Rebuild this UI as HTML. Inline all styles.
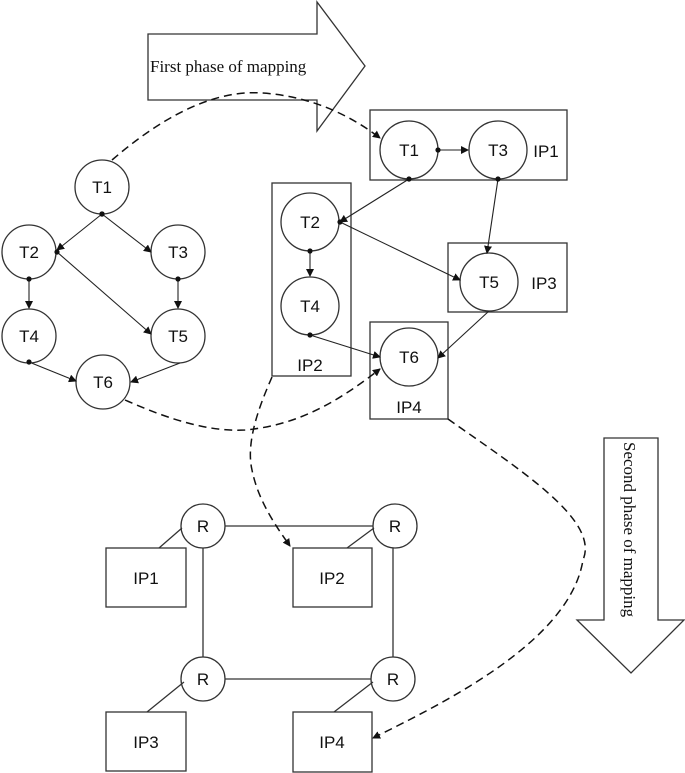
<!DOCTYPE html>
<html><head><style>
html,body{margin:0;padding:0;background:#fff;}
svg{display:block;}
.n{font-family:"Liberation Sans",sans-serif;font-size:17px;text-anchor:middle;fill:#111;}
.s{font-family:"Liberation Serif",serif;font-size:17px;fill:#111;}
</style></head><body>
<svg width="685" height="773" viewBox="0 0 685 773" xmlns="http://www.w3.org/2000/svg">
<defs>
<marker id="a" markerWidth="8" markerHeight="8" refX="7" refY="4" orient="auto" markerUnits="userSpaceOnUse"><path d="M0,0 L8,4 L0,8 z" fill="#111"/></marker>
<marker id="d" markerWidth="6" markerHeight="6" refX="3" refY="3" markerUnits="userSpaceOnUse"><circle cx="3" cy="3" r="2.6" fill="#111"/></marker>
</defs>
<g fill="none" stroke="#333" stroke-width="1.3">
<!-- top arrow -->
<path d="M148,34 L317,34 L317,2 L365,66 L317,131 L317,100 L148,100 Z" fill="#fff"/>
<!-- second arrow -->
<path d="M604,438 L658,438 L658,620 L684,620 L631,673 L577,620 L604,620 Z" fill="#fff"/>
<!-- left graph -->
<circle cx="102" cy="187" r="27"/>
<circle cx="29" cy="252" r="27"/>
<circle cx="178" cy="252" r="27"/>
<circle cx="29" cy="336" r="27"/>
<circle cx="178" cy="336" r="27"/>
<circle cx="103" cy="382" r="27"/>
<!-- right -->
<rect x="370" y="110" width="197" height="70"/>
<rect x="272" y="183" width="79" height="193"/>
<rect x="448" y="243" width="119" height="69"/>
<rect x="370" y="322" width="78" height="97"/>
<circle cx="409" cy="150" r="29"/>
<circle cx="498" cy="150" r="29"/>
<circle cx="310" cy="222" r="29"/>
<circle cx="310" cy="306" r="29"/>
<circle cx="489" cy="282" r="29"/>
<circle cx="409" cy="357" r="29"/>
<!-- network -->
<circle cx="203" cy="526" r="22"/>
<circle cx="395" cy="526" r="22"/>
<circle cx="203" cy="679" r="22"/>
<circle cx="393" cy="679" r="22"/>
<rect x="106" y="548" width="80" height="59"/>
<rect x="293" y="548" width="79" height="59"/>
<rect x="106" y="712" width="80" height="59"/>
<rect x="293" y="712" width="79" height="60"/>
<path d="M225,526 L373,526 M203,548 L203,657 M393,548 L393,657 M225,679 L371,679 M182,528 L159,548 M374,528 L347,548 M184,682 L147,712 M373,682 L334,712"/>
</g>
<g stroke="#222" stroke-width="1.1" fill="none" marker-start="url(#d)" marker-end="url(#a)">
<path d="M102,214 L57,250"/>
<path d="M102,214 L151,252"/>
<path d="M29,279 L29,308"/>
<path d="M178,279 L178,308"/>
<path d="M57,252 L151,334"/>
<path d="M29,362 L76,381"/>
<path d="M180,363 L131,382" marker-start="none"/>
<path d="M438,150 L468,150"/>
<path d="M409,179 L340,222"/>
<path d="M498,179 L487,253"/>
<path d="M340,222 L460,280"/>
<path d="M310,251 L310,276"/>
<path d="M310,335 L380,357"/>
<path d="M489,311 L438,358" marker-start="none"/>
</g>
<g stroke="#111" stroke-width="1.5" fill="none" stroke-dasharray="8,5" marker-end="url(#a)">
<path d="M112,160 C170,110 220,90 262,93 C310,96 350,115 380,138"/>
<path d="M125,400 C170,420 210,432 245,430 C300,425 340,400 380,369"/>
<path d="M272,377 C262,400 245,440 252,470 C258,500 275,525 290,546"/>
<path d="M448,419 C520,470 600,520 583,560 C570,640 450,700 373,738"/>
</g>
<text class="s" x="150" y="72">First phase of mapping</text>
<text class="s" transform="translate(624,442) rotate(90)">Second phase of mapping</text>
<g class="n">
<text x="102" y="193">T1</text>
<text x="29" y="258">T2</text>
<text x="178" y="258">T3</text>
<text x="29" y="342">T4</text>
<text x="178" y="342">T5</text>
<text x="103" y="388">T6</text>
<text x="409" y="156">T1</text>
<text x="498" y="156">T3</text>
<text x="546" y="157">IP1</text>
<text x="310" y="228">T2</text>
<text x="310" y="312">T4</text>
<text x="310" y="371">IP2</text>
<text x="489" y="288">T5</text>
<text x="544" y="289">IP3</text>
<text x="409" y="363">T6</text>
<text x="409" y="413">IP4</text>
<text x="203" y="532">R</text>
<text x="395" y="532">R</text>
<text x="203" y="685">R</text>
<text x="393" y="685">R</text>
<text x="146" y="584">IP1</text>
<text x="332" y="584">IP2</text>
<text x="146" y="748">IP3</text>
<text x="332" y="748">IP4</text>
</g>
</svg>
</body></html>
